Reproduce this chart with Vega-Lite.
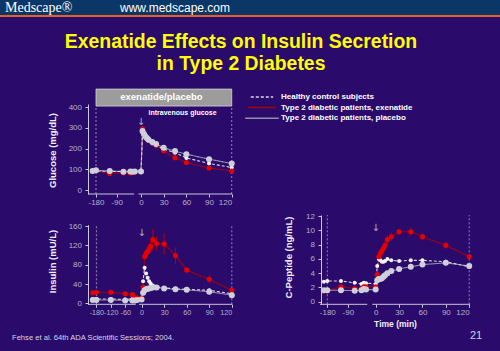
{
  "$schema": "https://vega.github.io/schema/vega-lite/v6.json",
  "width": 500,
  "height": 351,
  "autosize": "none",
  "padding": 0,
  "background": "#2a0a6a",
  "title": {
    "text": ["Exenatide Effects on Insulin Secretion", "in Type 2 Diabetes"],
    "orient": "top", "anchor": "middle", "frame": "group", "offset": 0, "baseline": "alphabetic",
    "dy": 89, "dx": -9, "lineHeight": 21.5, "font": "Liberation Sans", "fontWeight": "bold", "fontSize": 19.4, "color": "#ffff00"
  },
  "config": {
    "view": {"stroke": null},
    "font": "Liberation Sans",
    "axis": {
      "grid": false, "domainColor": "#c8c8d8", "tickColor": "#c8c8d8", "tickSize": 3,
      "labelColor": "#b4b4c8", "labelFont": "Liberation Sans", "labelFontSize": 8, "labelOverlap": false,
      "titleColor": "#f0f0f8", "titleFont": "Liberation Sans", "titleFontWeight": "bold", "titleFontSize": 9.5
    },
    "legend": {"labelColor": "#ffffff", "labelFont": "Liberation Sans", "labelFontWeight": "bold", "labelFontSize": 8}
  },
  "datasets": {
    "glucose": [
      {"t": -195, "group": "Type 2 diabetic patients, exenatide", "v": 92},
      {"t": -180, "group": "Type 2 diabetic patients, exenatide", "v": 93},
      {"t": -120, "group": "Type 2 diabetic patients, exenatide", "v": 80},
      {"t": -60, "group": "Type 2 diabetic patients, exenatide", "v": 83},
      {"t": -30, "group": "Type 2 diabetic patients, exenatide", "v": 82},
      {"t": -20, "group": "Type 2 diabetic patients, exenatide", "v": 85},
      {"t": -10, "group": "Type 2 diabetic patients, exenatide", "v": 87},
      {"t": 0, "group": "Type 2 diabetic patients, exenatide", "v": 88},
      {"t": 2, "group": "Type 2 diabetic patients, exenatide", "v": 295},
      {"t": 4, "group": "Type 2 diabetic patients, exenatide", "v": 265},
      {"t": 6, "group": "Type 2 diabetic patients, exenatide", "v": 254},
      {"t": 8, "group": "Type 2 diabetic patients, exenatide", "v": 247},
      {"t": 10, "group": "Type 2 diabetic patients, exenatide", "v": 240},
      {"t": 15, "group": "Type 2 diabetic patients, exenatide", "v": 228},
      {"t": 20, "group": "Type 2 diabetic patients, exenatide", "v": 217},
      {"t": 30, "group": "Type 2 diabetic patients, exenatide", "v": 189},
      {"t": 45, "group": "Type 2 diabetic patients, exenatide", "v": 156},
      {"t": 60, "group": "Type 2 diabetic patients, exenatide", "v": 133},
      {"t": 90, "group": "Type 2 diabetic patients, exenatide", "v": 106},
      {"t": 120, "group": "Type 2 diabetic patients, exenatide", "v": 92},
      {"t": -195, "group": "Type 2 diabetic patients, placebo", "v": 92},
      {"t": -180, "group": "Type 2 diabetic patients, placebo", "v": 95},
      {"t": -120, "group": "Type 2 diabetic patients, placebo", "v": 92},
      {"t": -60, "group": "Type 2 diabetic patients, placebo", "v": 88},
      {"t": -30, "group": "Type 2 diabetic patients, placebo", "v": 90},
      {"t": -20, "group": "Type 2 diabetic patients, placebo", "v": 88},
      {"t": -10, "group": "Type 2 diabetic patients, placebo", "v": 90},
      {"t": 0, "group": "Type 2 diabetic patients, placebo", "v": 90},
      {"t": 2, "group": "Type 2 diabetic patients, placebo", "v": 285},
      {"t": 4, "group": "Type 2 diabetic patients, placebo", "v": 270},
      {"t": 6, "group": "Type 2 diabetic patients, placebo", "v": 258},
      {"t": 8, "group": "Type 2 diabetic patients, placebo", "v": 250},
      {"t": 10, "group": "Type 2 diabetic patients, placebo", "v": 243},
      {"t": 15, "group": "Type 2 diabetic patients, placebo", "v": 232},
      {"t": 20, "group": "Type 2 diabetic patients, placebo", "v": 222},
      {"t": 30, "group": "Type 2 diabetic patients, placebo", "v": 204},
      {"t": 45, "group": "Type 2 diabetic patients, placebo", "v": 188},
      {"t": 60, "group": "Type 2 diabetic patients, placebo", "v": 173},
      {"t": 90, "group": "Type 2 diabetic patients, placebo", "v": 149},
      {"t": 120, "group": "Type 2 diabetic patients, placebo", "v": 128},
      {"t": -195, "group": "Healthy control subjects", "v": 90},
      {"t": -180, "group": "Healthy control subjects", "v": 92},
      {"t": -120, "group": "Healthy control subjects", "v": 90},
      {"t": -60, "group": "Healthy control subjects", "v": 90},
      {"t": -30, "group": "Healthy control subjects", "v": 88},
      {"t": -20, "group": "Healthy control subjects", "v": 90},
      {"t": -10, "group": "Healthy control subjects", "v": 88},
      {"t": 0, "group": "Healthy control subjects", "v": 89},
      {"t": 2, "group": "Healthy control subjects", "v": 275},
      {"t": 4, "group": "Healthy control subjects", "v": 262},
      {"t": 6, "group": "Healthy control subjects", "v": 252},
      {"t": 8, "group": "Healthy control subjects", "v": 244},
      {"t": 10, "group": "Healthy control subjects", "v": 236},
      {"t": 15, "group": "Healthy control subjects", "v": 225},
      {"t": 20, "group": "Healthy control subjects", "v": 215},
      {"t": 30, "group": "Healthy control subjects", "v": 198},
      {"t": 45, "group": "Healthy control subjects", "v": 180},
      {"t": 60, "group": "Healthy control subjects", "v": 155},
      {"t": 90, "group": "Healthy control subjects", "v": 128},
      {"t": 120, "group": "Healthy control subjects", "v": 109}
    ],
    "insulin": [
      {"t": -195, "group": "Type 2 diabetic patients, exenatide", "v": 22},
      {"t": -180, "group": "Type 2 diabetic patients, exenatide", "v": 23},
      {"t": -120, "group": "Type 2 diabetic patients, exenatide", "v": 23},
      {"t": -60, "group": "Type 2 diabetic patients, exenatide", "v": 20},
      {"t": -30, "group": "Type 2 diabetic patients, exenatide", "v": 18},
      {"t": -20, "group": "Type 2 diabetic patients, exenatide", "v": 12},
      {"t": -10, "group": "Type 2 diabetic patients, exenatide", "v": 11},
      {"t": 0, "group": "Type 2 diabetic patients, exenatide", "v": 11},
      {"t": 2, "group": "Type 2 diabetic patients, exenatide", "v": 33},
      {"t": 4, "group": "Type 2 diabetic patients, exenatide", "v": 97},
      {"t": 6, "group": "Type 2 diabetic patients, exenatide", "v": 104},
      {"t": 8, "group": "Type 2 diabetic patients, exenatide", "v": 107},
      {"t": 10, "group": "Type 2 diabetic patients, exenatide", "v": 113},
      {"t": 12, "group": "Type 2 diabetic patients, exenatide", "v": 118},
      {"t": 15, "group": "Type 2 diabetic patients, exenatide", "v": 132},
      {"t": 20, "group": "Type 2 diabetic patients, exenatide", "v": 124},
      {"t": 30, "group": "Type 2 diabetic patients, exenatide", "v": 123},
      {"t": 45, "group": "Type 2 diabetic patients, exenatide", "v": 99},
      {"t": 60, "group": "Type 2 diabetic patients, exenatide", "v": 69},
      {"t": 90, "group": "Type 2 diabetic patients, exenatide", "v": 50},
      {"t": 120, "group": "Type 2 diabetic patients, exenatide", "v": 27},
      {"t": -195, "group": "Type 2 diabetic patients, placebo", "v": 7},
      {"t": -180, "group": "Type 2 diabetic patients, placebo", "v": 7},
      {"t": -120, "group": "Type 2 diabetic patients, placebo", "v": 7},
      {"t": -60, "group": "Type 2 diabetic patients, placebo", "v": 6},
      {"t": -30, "group": "Type 2 diabetic patients, placebo", "v": 6},
      {"t": -20, "group": "Type 2 diabetic patients, placebo", "v": 6},
      {"t": -10, "group": "Type 2 diabetic patients, placebo", "v": 7},
      {"t": 0, "group": "Type 2 diabetic patients, placebo", "v": 8},
      {"t": 2, "group": "Type 2 diabetic patients, placebo", "v": 22},
      {"t": 4, "group": "Type 2 diabetic patients, placebo", "v": 27},
      {"t": 6, "group": "Type 2 diabetic patients, placebo", "v": 29},
      {"t": 8, "group": "Type 2 diabetic patients, placebo", "v": 30},
      {"t": 10, "group": "Type 2 diabetic patients, placebo", "v": 31},
      {"t": 12, "group": "Type 2 diabetic patients, placebo", "v": 32},
      {"t": 15, "group": "Type 2 diabetic patients, placebo", "v": 33},
      {"t": 20, "group": "Type 2 diabetic patients, placebo", "v": 33},
      {"t": 30, "group": "Type 2 diabetic patients, placebo", "v": 31},
      {"t": 45, "group": "Type 2 diabetic patients, placebo", "v": 29},
      {"t": 60, "group": "Type 2 diabetic patients, placebo", "v": 28},
      {"t": 90, "group": "Type 2 diabetic patients, placebo", "v": 24},
      {"t": 120, "group": "Type 2 diabetic patients, placebo", "v": 17},
      {"t": -195, "group": "Healthy control subjects", "v": 9},
      {"t": -180, "group": "Healthy control subjects", "v": 9},
      {"t": -120, "group": "Healthy control subjects", "v": 9},
      {"t": -60, "group": "Healthy control subjects", "v": 8},
      {"t": -30, "group": "Healthy control subjects", "v": 9},
      {"t": -20, "group": "Healthy control subjects", "v": 8},
      {"t": -10, "group": "Healthy control subjects", "v": 9},
      {"t": 0, "group": "Healthy control subjects", "v": 9},
      {"t": 2, "group": "Healthy control subjects", "v": 46},
      {"t": 4, "group": "Healthy control subjects", "v": 74},
      {"t": 6, "group": "Healthy control subjects", "v": 62},
      {"t": 8, "group": "Healthy control subjects", "v": 53},
      {"t": 10, "group": "Healthy control subjects", "v": 46},
      {"t": 12, "group": "Healthy control subjects", "v": 41},
      {"t": 15, "group": "Healthy control subjects", "v": 37},
      {"t": 20, "group": "Healthy control subjects", "v": 34},
      {"t": 30, "group": "Healthy control subjects", "v": 32},
      {"t": 45, "group": "Healthy control subjects", "v": 30},
      {"t": 60, "group": "Healthy control subjects", "v": 29},
      {"t": 90, "group": "Healthy control subjects", "v": 27},
      {"t": 120, "group": "Healthy control subjects", "v": 20}
    ],
    "insulinErr": [
      {"t": 4, "v": 97, "se": 8}, {"t": 6, "v": 104, "se": 8}, {"t": 8, "v": 107, "se": 9},
      {"t": 10, "v": 113, "se": 10}, {"t": 12, "v": 118, "se": 12}, {"t": 15, "v": 132, "se": 22},
      {"t": 20, "v": 124, "se": 15}, {"t": 30, "v": 123, "se": 22}, {"t": 45, "v": 99, "se": 17},
      {"t": 60, "v": 69, "se": 6}, {"t": 90, "v": 50, "se": 10}, {"t": 120, "v": 27, "se": 4}
    ],
    "cpeptide": [
      {"t": -195, "group": "Type 2 diabetic patients, exenatide", "v": 1.5},
      {"t": -180, "group": "Type 2 diabetic patients, exenatide", "v": 1.55},
      {"t": -120, "group": "Type 2 diabetic patients, exenatide", "v": 2.1},
      {"t": -60, "group": "Type 2 diabetic patients, exenatide", "v": 1.85},
      {"t": -30, "group": "Type 2 diabetic patients, exenatide", "v": 1.8},
      {"t": -20, "group": "Type 2 diabetic patients, exenatide", "v": 2.1},
      {"t": -10, "group": "Type 2 diabetic patients, exenatide", "v": 2.1},
      {"t": 0, "group": "Type 2 diabetic patients, exenatide", "v": 2.1},
      {"t": 2, "group": "Type 2 diabetic patients, exenatide", "v": 3.8},
      {"t": 4, "group": "Type 2 diabetic patients, exenatide", "v": 6.3},
      {"t": 6, "group": "Type 2 diabetic patients, exenatide", "v": 6.8},
      {"t": 8, "group": "Type 2 diabetic patients, exenatide", "v": 7.1},
      {"t": 10, "group": "Type 2 diabetic patients, exenatide", "v": 7.5},
      {"t": 12, "group": "Type 2 diabetic patients, exenatide", "v": 7.9},
      {"t": 15, "group": "Type 2 diabetic patients, exenatide", "v": 8.7},
      {"t": 20, "group": "Type 2 diabetic patients, exenatide", "v": 9.1},
      {"t": 30, "group": "Type 2 diabetic patients, exenatide", "v": 9.8},
      {"t": 45, "group": "Type 2 diabetic patients, exenatide", "v": 9.8},
      {"t": 60, "group": "Type 2 diabetic patients, exenatide", "v": 9.1},
      {"t": 90, "group": "Type 2 diabetic patients, exenatide", "v": 7.9},
      {"t": 120, "group": "Type 2 diabetic patients, exenatide", "v": 6.3},
      {"t": -195, "group": "Type 2 diabetic patients, placebo", "v": 1.6},
      {"t": -180, "group": "Type 2 diabetic patients, placebo", "v": 1.6},
      {"t": -120, "group": "Type 2 diabetic patients, placebo", "v": 1.6},
      {"t": -60, "group": "Type 2 diabetic patients, placebo", "v": 1.55},
      {"t": -30, "group": "Type 2 diabetic patients, placebo", "v": 1.6},
      {"t": -20, "group": "Type 2 diabetic patients, placebo", "v": 1.8},
      {"t": -10, "group": "Type 2 diabetic patients, placebo", "v": 1.7},
      {"t": 0, "group": "Type 2 diabetic patients, placebo", "v": 1.7},
      {"t": 2, "group": "Type 2 diabetic patients, placebo", "v": 3.0},
      {"t": 4, "group": "Type 2 diabetic patients, placebo", "v": 3.2},
      {"t": 6, "group": "Type 2 diabetic patients, placebo", "v": 3.2},
      {"t": 8, "group": "Type 2 diabetic patients, placebo", "v": 3.3},
      {"t": 10, "group": "Type 2 diabetic patients, placebo", "v": 3.5},
      {"t": 12, "group": "Type 2 diabetic patients, placebo", "v": 3.7},
      {"t": 15, "group": "Type 2 diabetic patients, placebo", "v": 4.0},
      {"t": 20, "group": "Type 2 diabetic patients, placebo", "v": 4.3},
      {"t": 30, "group": "Type 2 diabetic patients, placebo", "v": 4.6},
      {"t": 45, "group": "Type 2 diabetic patients, placebo", "v": 4.9},
      {"t": 60, "group": "Type 2 diabetic patients, placebo", "v": 5.2},
      {"t": 90, "group": "Type 2 diabetic patients, placebo", "v": 5.45},
      {"t": 120, "group": "Type 2 diabetic patients, placebo", "v": 5.0},
      {"t": -195, "group": "Healthy control subjects", "v": 2.8},
      {"t": -180, "group": "Healthy control subjects", "v": 2.9},
      {"t": -120, "group": "Healthy control subjects", "v": 2.9},
      {"t": -60, "group": "Healthy control subjects", "v": 2.65},
      {"t": -30, "group": "Healthy control subjects", "v": 2.5},
      {"t": -20, "group": "Healthy control subjects", "v": 2.65},
      {"t": -10, "group": "Healthy control subjects", "v": 2.6},
      {"t": 0, "group": "Healthy control subjects", "v": 2.5},
      {"t": 2, "group": "Healthy control subjects", "v": 5.0},
      {"t": 4, "group": "Healthy control subjects", "v": 6.0},
      {"t": 6, "group": "Healthy control subjects", "v": 5.8},
      {"t": 8, "group": "Healthy control subjects", "v": 5.6},
      {"t": 10, "group": "Healthy control subjects", "v": 5.6},
      {"t": 12, "group": "Healthy control subjects", "v": 5.7},
      {"t": 15, "group": "Healthy control subjects", "v": 6.0},
      {"t": 20, "group": "Healthy control subjects", "v": 5.8},
      {"t": 30, "group": "Healthy control subjects", "v": 5.7},
      {"t": 45, "group": "Healthy control subjects", "v": 5.8},
      {"t": 60, "group": "Healthy control subjects", "v": 5.8},
      {"t": 90, "group": "Healthy control subjects", "v": 5.6},
      {"t": 120, "group": "Healthy control subjects", "v": 4.9}
    ],
    "cpeptideErr": [
      {"t": 8, "v": 7.1, "se": 0.4}, {"t": 10, "v": 7.5, "se": 0.5}, {"t": 12, "v": 7.9, "se": 0.6},
      {"t": 15, "v": 8.7, "se": 0.7}, {"t": 20, "v": 9.1, "se": 0.6}, {"t": 30, "v": 9.8, "se": 0.3},
      {"t": 45, "v": 9.8, "se": 0.6}, {"t": 60, "v": 9.1, "se": 0.5}, {"t": 90, "v": 7.9, "se": 0.5},
      {"t": 120, "v": 6.3, "se": 0.3}
    ],
    "dosing": [{"start": -180, "end": 120, "label": "exenatide/placebo"}],
    "bounds": [{"t": -180}, {"t": 120}]
  },
  "layer": [
    {
      "data": {"values": [{}]},
      "mark": {
        "type": "rect",
        "fill": {
          "gradient": "linear", "x1": 0, "y1": 0, "x2": 0, "y2": 1,
          "stops": [
            {"offset": 0, "color": "#0b3768"},
            {"offset": 0.0427, "color": "#0b3768"},
            {"offset": 0.0427, "color": "#e8601c"},
            {"offset": 0.0484, "color": "#e8601c"},
            {"offset": 0.0484, "color": "#2a0a6a"},
            {"offset": 1, "color": "#2a0a6a"}
          ]
        }
      },
      "encoding": {}
    },
    {
      "data": {"values": [{"s": "Medscape®"}]},
      "mark": {"type": "text", "font": "Liberation Serif", "fontSize": 14, "color": "#ffffff", "align": "left", "baseline": "alphabetic"},
      "encoding": {"text": {"field": "s"}, "x": {"value": 5}, "y": {"value": 12}}
    },
    {
      "data": {"values": [{"s": "www.medscape.com"}]},
      "mark": {"type": "text", "font": "Liberation Sans", "fontSize": 12, "color": "#ffffff", "align": "left", "baseline": "alphabetic"},
      "encoding": {"text": {"field": "s"}, "x": {"value": 120}, "y": {"value": 12}}
    },
    {
      "data": {"values": [{"s": "Fehse et al. 64th ADA Scientific Sessions; 2004."}]},
      "mark": {"type": "text", "font": "Liberation Sans", "fontSize": 7.6, "color": "#d8d8e8", "align": "left", "baseline": "alphabetic"},
      "encoding": {"text": {"field": "s"}, "x": {"value": 12}, "y": {"value": 340}}
    },
    {
      "data": {"values": [{"s": "21"}]},
      "mark": {"type": "text", "font": "Liberation Sans", "fontSize": 11, "color": "#d0d0e0", "align": "left", "baseline": "alphabetic"},
      "encoding": {"text": {"field": "s"}, "x": {"value": 470}, "y": {"value": 339}}
    },
    {
      "data": {"name": "dosing"},
      "mark": {"type": "rect", "fill": "#9c9c9c", "stroke": "#d4d4d4", "strokeWidth": 0.8},
      "encoding": {
        "x": {"field": "start", "type": "quantitative", "axis": null, "scale": {"domain": [-215, -5, 0, 120.5], "range": [88, 136, 141, 232.1], "nice": false, "zero": false}},
        "x2": {"field": "end"},
        "y": {"datum": 405, "type": "quantitative", "axis": null, "scale": {"domain": [-19, 415], "range": [194, 104], "nice": false, "zero": false}},
        "y2": {"datum": 487}
      }
    },
    {
      "data": {"name": "dosing"},
      "mark": {"type": "text", "font": "Liberation Sans", "fontWeight": "bold", "fontSize": 9.5, "color": "#ffffff", "baseline": "middle"},
      "encoding": {
        "text": {"field": "label"},
        "x": {"datum": 27, "type": "quantitative", "axis": null, "scale": {"domain": [-215, -5, 0, 120.5], "range": [88, 136, 141, 232.1], "nice": false, "zero": false}},
        "y": {"datum": 448, "type": "quantitative", "axis": null, "scale": {"domain": [-19, 415], "range": [194, 104], "nice": false, "zero": false}}
      }
    },
    {
      "data": {"name": "bounds"},
      "mark": {"type": "rule", "color": "#a8a8c4", "strokeWidth": 0.8, "strokeDash": [2, 2]},
      "encoding": {
        "x": {"field": "t", "type": "quantitative", "axis": null, "scale": {"domain": [-215, -5, 0, 120.5], "range": [88, 136, 141, 232.1], "nice": false, "zero": false}},
        "y": {"datum": -19, "type": "quantitative", "axis": null, "scale": {"domain": [-19, 415], "range": [194, 104], "nice": false, "zero": false}},
        "y2": {"datum": 405}
      }
    },
    {
      "data": {"values": [{"s": "intravenous glucose"}]},
      "mark": {"type": "text", "font": "Liberation Sans", "fontWeight": "bold", "fontSize": 7, "color": "#ffffff", "baseline": "middle"},
      "encoding": {
        "text": {"field": "s"},
        "x": {"datum": 55, "type": "quantitative", "axis": null, "scale": {"domain": [-215, -5, 0, 120.5], "range": [88, 136, 141, 232.1], "nice": false, "zero": false}},
        "y": {"datum": 374, "type": "quantitative", "axis": null, "scale": {"domain": [-19, 415], "range": [194, 104], "nice": false, "zero": false}}
      }
    },
    {
      "data": {"values": [{"s": "↓"}]},
      "mark": {"type": "text", "font": "DejaVu Sans", "fontSize": 10, "color": "#b0b0c0", "baseline": "middle"},
      "encoding": {
        "text": {"field": "s"},
        "x": {"datum": 0, "type": "quantitative", "axis": null, "scale": {"domain": [-215, -5, 0, 120.5], "range": [88, 136, 141, 232.1], "nice": false, "zero": false}},
        "y": {"datum": 328, "type": "quantitative", "axis": null, "scale": {"domain": [-19, 415], "range": [194, 104], "nice": false, "zero": false}}
      }
    },
    {
      "data": {"values": [{"a": -215, "b": -13}, {"a": -2.5, "b": 120.5}]},
      "mark": {"type": "rule", "color": "#c8c8d8", "strokeWidth": 1},
      "encoding": {
        "x": {"field": "a", "type": "quantitative", "axis": null, "scale": {"domain": [-215, -5, 0, 120.5], "range": [88, 136, 141, 232.1], "nice": false, "zero": false}},
        "x2": {"field": "b"},
        "y": {"datum": -19, "type": "quantitative", "axis": null, "scale": {"domain": [-19, 415], "range": [194, 104], "nice": false, "zero": false}}
      }
    },
    {
      "data": {"name": "glucose"},
      "mark": {"type": "line", "strokeWidth": 1.1},
      "encoding": {
        "x": {"field": "t", "type": "quantitative", "scale": {"domain": [-215, -5, 0, 120.5], "range": [88, 136, 141, 232.1], "nice": false, "zero": false},
          "axis": {"zindex": 2, "orient": "bottom", "offset": -157, "domain": false, "values": [-180, -90, 0, 30, 60, 90, 120], "labelExpr": "datum.value + ''", "labelPadding": 1, "title": null}},
        "y": {"field": "v", "type": "quantitative", "scale": {"domain": [-19, 415], "range": [194, 104], "nice": false, "zero": false},
          "axis": {"zindex": 2, "orient": "left", "offset": -88, "values": [0, 100, 200, 300, 400], "labelPadding": 3.5, "title": "Glucose  (mg/dL)", "titleX": -31, "titleY": 150}},
        "color": {"field": "group", "type": "nominal",
          "scale": {"domain": ["Healthy control subjects", "Type 2 diabetic patients, exenatide", "Type 2 diabetic patients, placebo"], "range": ["#d8d8e8", "#a00010", "#9090aa"]},
          "legend": {"orient": "none", "legendX": 258, "legendY": 93, "title": null, "symbolType": "M-5.6,0H5.6", "symbolSize": 100, "symbolStrokeWidth": 1.5, "labelOffset": 15, "rowPadding": 2.6, "padding": 0}},
        "strokeDash": {"field": "group", "type": "nominal",
          "scale": {"domain": ["Healthy control subjects", "Type 2 diabetic patients, exenatide", "Type 2 diabetic patients, placebo"], "range": [[3, 2], [1, 0], [1, 0]]},
          "legend": {"orient": "none", "legendX": 258, "legendY": 93, "title": null, "symbolType": "M-5.6,0H5.6", "symbolSize": 100, "symbolStrokeWidth": 1.5, "labelOffset": 15, "rowPadding": 2.6, "padding": 0}}
      }
    },
    {
      "data": {"name": "glucose"},
      "mark": {"type": "point", "filled": true, "opacity": 1},
      "encoding": {
        "x": {"field": "t", "type": "quantitative", "axis": null, "scale": {"domain": [-215, -5, 0, 120.5], "range": [88, 136, 141, 232.1], "nice": false, "zero": false}},
        "y": {"field": "v", "type": "quantitative", "axis": null, "scale": {"domain": [-19, 415], "range": [194, 104], "nice": false, "zero": false}},
        "fill": {"field": "group", "type": "nominal", "legend": null,
          "scale": {"domain": ["Healthy control subjects", "Type 2 diabetic patients, exenatide", "Type 2 diabetic patients, placebo"], "range": ["#f4f4fa", "#e60000", "#cfcfdc"]}},
        "size": {"field": "group", "type": "nominal", "legend": null,
          "scale": {"domain": ["Healthy control subjects", "Type 2 diabetic patients, exenatide", "Type 2 diabetic patients, placebo"], "range": [16, 36, 16]}},
        "order": {"field": "group", "sort": "ascending"}
      }
    },
    {
      "data": {"name": "bounds"},
      "mark": {"type": "rule", "color": "#a8a8c4", "strokeWidth": 0.8, "strokeDash": [2, 2]},
      "encoding": {
        "x": {"field": "t", "type": "quantitative", "axis": null, "scale": {"domain": [-215, -5, 0, 120.5], "range": [88, 138.4, 141.6, 232.2], "nice": false, "zero": false}},
        "y": {"datum": -2, "type": "quantitative", "axis": null, "scale": {"domain": [-2, 163], "range": [304.3, 224.7], "nice": false, "zero": false}},
        "y2": {"datum": 163}
      }
    },
    {
      "data": {"values": [{"s": "↓"}]},
      "mark": {"type": "text", "font": "DejaVu Sans", "fontSize": 10, "color": "#b0b0c0", "baseline": "middle"},
      "encoding": {
        "text": {"field": "s"},
        "x": {"datum": 0, "type": "quantitative", "axis": null, "scale": {"domain": [-215, -5, 0, 120.5], "range": [88, 138.4, 141.6, 232.2], "nice": false, "zero": false}},
        "y": {"datum": 145, "type": "quantitative", "axis": null, "scale": {"domain": [-2, 163], "range": [304.3, 224.7], "nice": false, "zero": false}}
      }
    },
    {
      "data": {"values": [{"a": -215, "b": -16}, {"a": -4, "b": 120.5}]},
      "mark": {"type": "rule", "color": "#c8c8d8", "strokeWidth": 1},
      "encoding": {
        "x": {"field": "a", "type": "quantitative", "axis": null, "scale": {"domain": [-215, -5, 0, 120.5], "range": [88, 138.4, 141.6, 232.2], "nice": false, "zero": false}},
        "x2": {"field": "b"},
        "y": {"datum": -2, "type": "quantitative", "axis": null, "scale": {"domain": [-2, 163], "range": [304.3, 224.7], "nice": false, "zero": false}}
      }
    },
    {
      "data": {"name": "insulin"},
      "mark": {"type": "line", "strokeWidth": 1.1},
      "encoding": {
        "x": {"field": "t", "type": "quantitative", "scale": {"domain": [-215, -5, 0, 120.5], "range": [88, 138.4, 141.6, 232.2], "nice": false, "zero": false},
          "axis": {"zindex": 2, "orient": "bottom", "offset": -46.7, "domain": false, "values": [-180, -120, -60, 0, 30, 60, 90, 120], "labelExpr": "datum.value + ''", "labelPadding": 1, "labelFontSize": 7.2, "title": null}},
        "y": {"field": "v", "type": "quantitative", "scale": {"domain": [-2, 163], "range": [304.3, 224.7], "nice": false, "zero": false},
          "axis": {"zindex": 2, "orient": "left", "offset": -88, "values": [0, 40, 80, 120, 160], "labelPadding": 3.5, "title": "Insulin (mU/L)", "titleX": -31, "titleY": 261}},
        "color": {"field": "group", "type": "nominal", "legend": null,
          "scale": {"domain": ["Healthy control subjects", "Type 2 diabetic patients, exenatide", "Type 2 diabetic patients, placebo"], "range": ["#d8d8e8", "#a00010", "#9090aa"]}},
        "strokeDash": {"field": "group", "type": "nominal", "legend": null,
          "scale": {"domain": ["Healthy control subjects", "Type 2 diabetic patients, exenatide", "Type 2 diabetic patients, placebo"], "range": [[3, 2], [1, 0], [1, 0]]}}
      }
    },
    {
      "data": {"name": "insulinErr"},
      "mark": {"type": "errorbar", "color": "#b00010", "thickness": 1},
      "encoding": {
        "x": {"field": "t", "type": "quantitative", "axis": null, "scale": {"domain": [-215, -5, 0, 120.5], "range": [88, 138.4, 141.6, 232.2], "nice": false, "zero": false}},
        "y": {"field": "v", "type": "quantitative", "axis": null, "scale": {"domain": [-2, 163], "range": [304.3, 224.7], "nice": false, "zero": false}},
        "yError": {"field": "se"}
      }
    },
    {
      "data": {"name": "insulin"},
      "mark": {"type": "point", "filled": true, "opacity": 1},
      "encoding": {
        "x": {"field": "t", "type": "quantitative", "axis": null, "scale": {"domain": [-215, -5, 0, 120.5], "range": [88, 138.4, 141.6, 232.2], "nice": false, "zero": false}},
        "y": {"field": "v", "type": "quantitative", "axis": null, "scale": {"domain": [-2, 163], "range": [304.3, 224.7], "nice": false, "zero": false}},
        "fill": {"field": "group", "type": "nominal", "legend": null,
          "scale": {"domain": ["Healthy control subjects", "Type 2 diabetic patients, exenatide", "Type 2 diabetic patients, placebo"], "range": ["#f4f4fa", "#e60000", "#cfcfdc"]}},
        "size": {"field": "group", "type": "nominal", "legend": null,
          "scale": {"domain": ["Healthy control subjects", "Type 2 diabetic patients, exenatide", "Type 2 diabetic patients, placebo"], "range": [16, 36, 16]}},
        "order": {"field": "group", "sort": "ascending"}
      }
    },
    {
      "data": {"name": "bounds"},
      "mark": {"type": "rule", "color": "#a8a8c4", "strokeWidth": 0.8, "strokeDash": [2, 2]},
      "encoding": {
        "x": {"field": "t", "type": "quantitative", "axis": null, "scale": {"domain": [-212, -5, 0, 121], "range": [320, 367.2, 375.7, 470], "nice": false, "zero": false}},
        "y": {"datum": -0.36, "type": "quantitative", "axis": null, "scale": {"domain": [-0.36, 12.15], "range": [304.3, 215], "nice": false, "zero": false}},
        "y2": {"datum": 12.15}
      }
    },
    {
      "data": {"values": [{"s": "↓"}]},
      "mark": {"type": "text", "font": "DejaVu Sans", "fontSize": 10, "color": "#b0b0c0", "baseline": "middle"},
      "encoding": {
        "text": {"field": "s"},
        "x": {"datum": 0, "type": "quantitative", "axis": null, "scale": {"domain": [-212, -5, 0, 121], "range": [320, 367.2, 375.7, 470], "nice": false, "zero": false}},
        "y": {"datum": 10.3, "type": "quantitative", "axis": null, "scale": {"domain": [-0.36, 12.15], "range": [304.3, 215], "nice": false, "zero": false}}
      }
    },
    {
      "data": {"values": [{"a": -212, "b": -5}, {"a": -2, "b": 121}]},
      "mark": {"type": "rule", "color": "#c8c8d8", "strokeWidth": 1},
      "encoding": {
        "x": {"field": "a", "type": "quantitative", "axis": null, "scale": {"domain": [-212, -5, 0, 121], "range": [320, 367.2, 375.7, 470], "nice": false, "zero": false}},
        "x2": {"field": "b"},
        "y": {"datum": -0.36, "type": "quantitative", "axis": null, "scale": {"domain": [-0.36, 12.15], "range": [304.3, 215], "nice": false, "zero": false}}
      }
    },
    {
      "data": {"name": "cpeptide"},
      "mark": {"type": "line", "strokeWidth": 1.1},
      "encoding": {
        "x": {"field": "t", "type": "quantitative", "scale": {"domain": [-212, -5, 0, 121], "range": [320, 367.2, 375.7, 470], "nice": false, "zero": false},
          "axis": {"zindex": 2, "orient": "bottom", "offset": -46.7, "domain": false, "values": [-180, -90, 0, 30, 60, 90, 120], "labelExpr": "datum.value + ''", "labelPadding": 1, "title": "Time (min)", "titlePadding": 3, "titleFontSize": 8.5}},
        "y": {"field": "v", "type": "quantitative", "scale": {"domain": [-0.36, 12.15], "range": [304.3, 215], "nice": false, "zero": false},
          "axis": {"zindex": 2, "orient": "left", "offset": -321, "values": [0, 2, 4, 6, 8, 10, 12], "labelPadding": 3.5, "title": "C-Peptide (ng/mL)", "titleX": -28, "titleY": 257}},
        "color": {"field": "group", "type": "nominal", "legend": null,
          "scale": {"domain": ["Healthy control subjects", "Type 2 diabetic patients, exenatide", "Type 2 diabetic patients, placebo"], "range": ["#d8d8e8", "#a00010", "#9090aa"]}},
        "strokeDash": {"field": "group", "type": "nominal", "legend": null,
          "scale": {"domain": ["Healthy control subjects", "Type 2 diabetic patients, exenatide", "Type 2 diabetic patients, placebo"], "range": [[3, 2], [1, 0], [1, 0]]}}
      }
    },
    {
      "data": {"name": "cpeptideErr"},
      "mark": {"type": "errorbar", "color": "#b00010", "thickness": 1},
      "encoding": {
        "x": {"field": "t", "type": "quantitative", "axis": null, "scale": {"domain": [-212, -5, 0, 121], "range": [320, 367.2, 375.7, 470], "nice": false, "zero": false}},
        "y": {"field": "v", "type": "quantitative", "axis": null, "scale": {"domain": [-0.36, 12.15], "range": [304.3, 215], "nice": false, "zero": false}},
        "yError": {"field": "se"}
      }
    },
    {
      "data": {"name": "cpeptide"},
      "mark": {"type": "point", "filled": true, "opacity": 1},
      "encoding": {
        "x": {"field": "t", "type": "quantitative", "axis": null, "scale": {"domain": [-212, -5, 0, 121], "range": [320, 367.2, 375.7, 470], "nice": false, "zero": false}},
        "y": {"field": "v", "type": "quantitative", "axis": null, "scale": {"domain": [-0.36, 12.15], "range": [304.3, 215], "nice": false, "zero": false}},
        "fill": {"field": "group", "type": "nominal", "legend": null,
          "scale": {"domain": ["Healthy control subjects", "Type 2 diabetic patients, exenatide", "Type 2 diabetic patients, placebo"], "range": ["#f4f4fa", "#e60000", "#cfcfdc"]}},
        "size": {"field": "group", "type": "nominal", "legend": null,
          "scale": {"domain": ["Healthy control subjects", "Type 2 diabetic patients, exenatide", "Type 2 diabetic patients, placebo"], "range": [16, 36, 16]}},
        "order": {"field": "group", "sort": "ascending"}
      }
    }
  ],
  "resolve": {
    "scale": {"x": "independent", "y": "independent"},
    "axis": {"x": "independent", "y": "independent"}
  }
}
